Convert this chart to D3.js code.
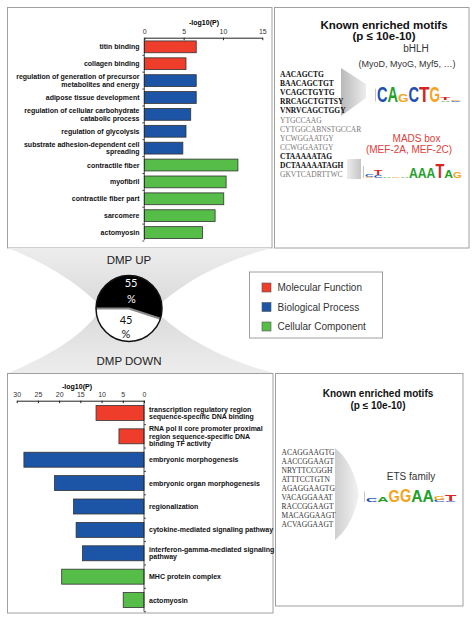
<!DOCTYPE html>
<html><head><meta charset="utf-8">
<script src="https://cdn.jsdelivr.net/npm/d3@7"></script>
<style>body{margin:0;background:#fff}svg{display:block}</style>
</head><body>
<svg id="c" width="474" height="627"></svg>
<script>
// ---------------- data ----------------
const groupNames = ["Molecular Function", "Biological Process", "Cellular Component"];
const groupColors = ["#ee3d2b", "#1c55a5", "#56bd48"];

const upCategories = ["titin binding", "collagen binding",
  "regulation of generation of precursor\nmetabolites and energy",
  "adipose tissue development",
  "regulation of cellular carbohydrate\ncatabolic process",
  "regulation of glycolysis",
  "substrate adhesion-dependent cell\nspreading",
  "contractile fiber", "myofibril", "contractile fiber part", "sarcomere", "actomyosin"];
const upValues = [6.6, 5.3, 6.6, 6.6, 5.9, 5.3, 4.9, 11.9, 10.4, 10.1, 9.0, 7.4];
const upGroups = [0, 0, 1, 1, 1, 1, 1, 2, 2, 2, 2, 2];
const upTicks = [0, 5, 10, 15];

const downCategories = ["transcription regulatory region\nsequence-specific DNA binding",
  "RNA pol II core promoter proximal\nregion sequence-specific DNA\nbinding TF activity",
  "embryonic morphogenesis", "embryonic organ morphogenesis", "regionalization",
  "cytokine-mediated signaling pathway",
  "interferon-gamma-mediated signaling\npathway",
  "MHC protein complex", "actomyosin"];
const downValues = [11.3, 5.9, 28.3, 21.1, 16.6, 16.0, 14.5, 19.4, 4.9];
const downGroups = [0, 0, 1, 1, 1, 1, 1, 2, 2];
const downTicks = [0, 5, 10, 15, 20, 25, 30];

const axisTitle = "-log10(P)";
const pieLabels = ["DMP UP", "DMP DOWN"];
const pieValues = [55, 45];

const motifTitle = ["Known enriched motifs", "(p \u2264 10e-10)"];
const upSequences = ["AACAGCTG", "BAACAGCTGT", "VCAGCTGYTG", "RRCAGCTGTTSY", "VNRVCAGCTGGY",
  "YTGCCAAG", "CYTGGCABNSTGCCAR", "YCWGGAATGY", "CCWGGAATGY",
  "CTAAAAATAG", "DCTAAAAATAGH", "GKVTCADRTTWC"];
const upSeqBold = [1, 1, 1, 1, 1, 0, 0, 0, 0, 1, 1, 0];
const downSequences = ["ACAGGAAGTG", "AACCGGAAGT", "NRYTTCCGGH", "ATTTCCTGTN", "AGAGGAAGTG",
  "VACAGGAAAT", "RACCGGAAGT", "MACAGGAAGT", "ACVAGGAAGT"];
const familyBHLH = ["bHLH", "(MyoD, MyoG, Myf5, \u2026)"];
const familyMADS = ["MADS box", "(MEF-2A, MEF-2C)"];
const familyETS = ["ETS family"];
// sequence logos: columns of [letter, relative height] stacked bottom-up
const logoBHLH = [[["C", 1]], [["A", 1]], [["G", 0.5]], [["C", 1]], [["T", 1]], [["G", 1]],
  [["A", 0.07], ["T", 0.12]], [["C", 0.05], ["G", 0.09]]];
const logoMADS = [[["G", 0.08], ["C", 0.2]], [["C", 0.18], ["T", 0.38]], [["A", 0.08]], [["G", 0.07]],
  [["A", 0.1]], [["A", 0.7]], [["A", 0.7]], [["A", 0.7]], [["T", 1]], [["A", 0.55]], [["G", 0.4]]];
const logoETS = [[["C", 0.3]], [["A", 0.35]], [["G", 0.95]], [["G", 1]], [["A", 0.9]], [["A", 0.9]],
  [["C", 0.15], ["G", 0.3]], [["C", 0.1], ["T", 0.5]]];

// ---------------- drawing ----------------
const svg = d3.select("#c");
const SANS = "'Liberation Sans', Arial, Helvetica, sans-serif";
const SERIF = "'Liberation Serif', 'Times New Roman', serif";
const defs = svg.append("defs");

function lg(id, stops, x2, y2) {
  const g = defs.append("linearGradient").attr("id", id)
    .attr("x1", 0).attr("y1", 0).attr("x2", x2).attr("y2", y2);
  stops.forEach(([o, c]) => g.append("stop").attr("offset", o).attr("stop-color", c));
}
lg("fTop", [[0, "#ededed"], [1, "#d9d9d9"]], 0, 1);
lg("fBot", [[0, "#d9d9d9"], [1, "#ededed"]], 0, 1);
lg("arr1", [[0, "#b9b9b9"], [1, "#ececec"]], 1, 0);
lg("arr2", [[0, "#ececec"], [1, "#c6c6c6"]], 1, 0);
lg("arr3", [[0, "#cfcfcf"], [1, "#f2f2f2"]], 1, 0);

// panels
const panels = [[7.5, 7.5, 264.5, 240.5], [274.5, 7.5, 194.5, 240.5],
  [7.5, 373.5, 265.5, 239.5], [275.5, 373.5, 187.5, 232.5]];
svg.selectAll("rect.panel").data(panels).join("rect").attr("class", "panel")
  .attr("x", d => d[0]).attr("y", d => d[1]).attr("width", d => d[2]).attr("height", d => d[3])
  .attr("fill", "#fff").attr("stroke", "#a0a0a0").attr("stroke-width", 1);

// funnels
const pc = [129, 308.5], pr = 33;
svg.append("path").attr("d", "M7 248 C45 262,80 285,97 303 L129 308 L161 303 C190 278,230 258,273 248 Z")
  .attr("fill", "url(#fTop)");
svg.append("path").attr("d", "M97 314 C80 338,45 358,8 373 L274 373 C230 362,190 342,161 316 L129 308 Z")
  .attr("fill", "url(#fBot)");

// ---- bar chart helper ----
function multiline(sel, text, x, cy, lh, anchor) {
  const lines = text.split("\n");
  const t = sel.append("text").attr("x", x).attr("text-anchor", anchor)
    .attr("font-family", SANS).attr("font-size", 7).attr("font-weight", "bold").attr("fill", "#111");
  lines.forEach((l, i) => t.append("tspan").attr("x", x)
    .attr("y", cy + (i - (lines.length - 1) / 2) * lh + 2.5).text(l));
}

// UP chart
(function () {
  const g = svg.append("g");
  const x = d3.scaleLinear().domain([0, 15]).range([144.3, 262.3]);
  const y = d3.scaleBand().domain(upCategories).range([38.4, 241]).paddingInner(0.3).paddingOuter(0.15);
  g.selectAll("rect.bar").data(upCategories).join("rect").attr("class", "bar")
    .attr("x", x(0)).attr("y", d => y(d)).attr("height", y.bandwidth())
    .attr("width", (d, i) => x(upValues[i]) - x(0))
    .attr("fill", (d, i) => groupColors[upGroups[i]]).attr("stroke", "#333").attr("stroke-width", 0.8);
  const ax = g.append("g").attr("transform", "translate(0,37.7)")
    .call(d3.axisTop(x).tickValues(upTicks).tickSizeInner(-2.5).tickSizeOuter(0).tickPadding(3.5));
  ax.select(".domain").attr("stroke", "#222");
  ax.selectAll(".tick line").attr("stroke", "#222");
  ax.selectAll("text").attr("font-family", SANS).attr("font-size", 7).attr("fill", "#333");
  g.append("text").attr("x", 204).attr("y", 25).attr("text-anchor", "middle")
    .attr("font-family", SANS).attr("font-size", 7).attr("font-weight", "bold").text(axisTitle);
  g.append("line").attr("x1", x(0)).attr("x2", x(0)).attr("y1", 37.7).attr("y2", 240).attr("stroke", "#222").attr("stroke-width", 0.8);
  const step = y.step();
  g.selectAll("line.yt").data(upCategories).join("line").attr("class", "yt")
    .attr("x1", x(0) - 2).attr("x2", x(0))
    .attr("y1", (d, i) => y(upCategories[0]) + (i + 1) * step - step * 0.15)
    .attr("y2", (d, i) => y(upCategories[0]) + (i + 1) * step - step * 0.15)
    .attr("stroke", "#222").attr("stroke-width", 0.8);
  upCategories.forEach(c => multiline(g, c, 139.5, y(c) + y.bandwidth() / 2, 7.5, "end"));
})();

// DOWN chart
(function () {
  const g = svg.append("g");
  const x = d3.scaleLinear().domain([0, 30]).range([144, 16.7]);
  const y = d3.scaleBand().domain(downCategories).range([401, 612]).paddingInner(0.36).paddingOuter(0.19);
  g.selectAll("rect.bar").data(downCategories).join("rect").attr("class", "bar")
    .attr("x", (d, i) => x(downValues[i])).attr("y", d => y(d)).attr("height", y.bandwidth())
    .attr("width", (d, i) => x(0) - x(downValues[i]))
    .attr("fill", (d, i) => groupColors[downGroups[i]]).attr("stroke", "#333").attr("stroke-width", 0.8);
  const ax = g.append("g").attr("transform", "translate(0,400.7)")
    .call(d3.axisTop(x).tickValues(downTicks).tickSizeInner(-2.5).tickSizeOuter(0).tickPadding(3.7));
  ax.select(".domain").attr("stroke", "#222");
  ax.selectAll(".tick line").attr("stroke", "#222");
  ax.selectAll("text").attr("font-family", SANS).attr("font-size", 7).attr("fill", "#333");
  g.append("text").attr("x", 77).attr("y", 388.5).attr("text-anchor", "middle")
    .attr("font-family", SANS).attr("font-size", 7).attr("font-weight", "bold").text(axisTitle);
  g.append("line").attr("x1", x(0)).attr("x2", x(0)).attr("y1", 400.7).attr("y2", 611.7).attr("stroke", "#222").attr("stroke-width", 0.8);
  const step = y.step();
  g.selectAll("line.yt").data(downCategories).join("line").attr("class", "yt")
    .attr("x1", x(0)).attr("x2", x(0) + 2)
    .attr("y1", (d, i) => y(downCategories[0]) + (i + 1) * step - step * 0.18)
    .attr("y2", (d, i) => y(downCategories[0]) + (i + 1) * step - step * 0.18)
    .attr("stroke", "#222").attr("stroke-width", 0.8);
  downCategories.forEach(c => multiline(g, c, 149, y(c) + y.bandwidth() / 2, 7.4, "start"));
})();

// PIE
(function () {
  const g = svg.append("g").attr("transform", `translate(${pc[0]},${pc[1]})`);
  const pie = d3.pie().sort(null).startAngle(-Math.PI / 2).endAngle(1.5 * Math.PI);
  const arcs = pie(pieValues);
  const arc = d3.arc().innerRadius(0).outerRadius(pr);
  g.selectAll("path").data(arcs).join("path").attr("d", arc)
    .attr("fill", (d, i) => i === 0 ? "#000" : "#fff");
  arcs.forEach(a => {
    const ang = a.startAngle;
    g.append("line").attr("x1", 0).attr("y1", 0)
      .attr("x2", pr * Math.sin(ang)).attr("y2", -pr * Math.cos(ang))
      .attr("stroke", "#8a8a8a").attr("stroke-width", 2.2);
  });
  g.append("circle").attr("r", pr).attr("fill", "none").attr("stroke", "#111").attr("stroke-width", 1.5);
  const pos = [[[2, -21.8], [2.5, -5.8]], [[-3, 15], [-3, 29]]];
  arcs.forEach((a, i) => {
    const t = [a.data + "", "%"];
    t.forEach((s, j) => g.append("text").attr("x", pos[i][j][0]).attr("y", pos[i][j][1])
      .attr("text-anchor", "middle").attr("font-family", "Lato, 'Open Sans', sans-serif").attr("font-size", 11)
      .attr("fill", i === 0 ? "#fff" : "#111").text(s));
  });
  svg.append("text").attr("x", pc[0]).attr("y", 264).attr("text-anchor", "middle")
    .attr("font-family", SANS).attr("font-size", 11.5).attr("fill", "#222").text(pieLabels[0]);
  svg.append("text").attr("x", pc[0]).attr("y", 365).attr("text-anchor", "middle")
    .attr("font-family", SANS).attr("font-size", 11.5).attr("fill", "#222").text(pieLabels[1]);
})();

// LEGEND
(function () {
  const g = svg.append("g");
  g.append("rect").attr("x", 249.5).attr("y", 272).attr("width", 133).attr("height", 66)
    .attr("fill", "#fff").attr("stroke", "#a0a0a0");
  groupNames.forEach((n, i) => {
    const cy = 287.5 + i * 19.5;
    g.append("rect").attr("x", 262).attr("y", cy - 4.5).attr("width", 9).attr("height", 9)
      .attr("fill", groupColors[i]).attr("stroke", "#555").attr("stroke-width", 0.6);
    g.append("text").attr("x", 277.5).attr("y", cy + 3.5).attr("font-family", SANS)
      .attr("font-size", 10).attr("fill", "#333").text(n);
  });
})();

// LOGO helper
const letterColor = { A: "#23a12b", C: "#1f4fb2", G: "#f5a31d", T: "#d6261f" };
function drawLogo(cols, x0, colW, base, fullH) {
  const g = svg.append("g");
  g.append("line").attr("x1", x0 - 1.5).attr("x2", x0 - 1.5).attr("y1", base).attr("y2", base - fullH * 0.8)
    .attr("stroke", "#888").attr("stroke-width", 0.5);
  cols.forEach((col, i) => {
    let yb = base;
    col.forEach(([L, f]) => {
      const h = f * fullH;
      const t = g.append("text").text(L).attr("font-family", SANS).attr("font-size", 100)
        .attr("font-weight", "bold").attr("fill", letterColor[L]);
      const w = t.node().getComputedTextLength();
      t.attr("transform", `translate(${x0 + i * colW},${yb}) scale(${colW / w},${h / 71.6})`);
      yb -= h;
    });
  });
}

// TOP MOTIF PANEL
(function () {
  const g = svg.append("g");
  motifTitle.forEach((s, i) => g.append("text").attr("x", 384).attr("y", 29 + i * 11).attr("text-anchor", "middle")
    .attr("font-family", SANS).attr("font-size", 11.5).attr("font-weight", "bold").attr("fill", "#111").text(s));
  familyBHLH.forEach((s, i) => g.append("text").attr("x", i ? 407 : 416).attr("y", 52 + i * 14.5).attr("text-anchor", "middle")
    .attr("font-family", SANS).attr("font-size", i ? 9 : 10).attr("fill", "#333").text(s));
  familyMADS.forEach((s, i) => g.append("text").attr("x", i ? 409 : 416.5).attr("y", 141.5 + i * 11.5).attr("text-anchor", "middle")
    .attr("font-family", SANS).attr("font-size", 10).attr("fill", "#e0403a").text(s));
  g.append("path").attr("d", "M341 68 L366 84 L366 98 L341 116 Z").attr("fill", "url(#arr1)");
  g.append("rect").attr("x", 347).attr("y", 159).attr("width", 14).attr("height", 20).attr("fill", "url(#arr2)");
  upSequences.forEach((s, i) => g.append("text").attr("x", 280).attr("y", 77 + i * 9.1)
    .attr("font-family", SERIF).attr("font-size", 7.5).attr("font-weight", upSeqBold[i] ? "bold" : "normal")
    .attr("fill", upSeqBold[i] ? "#111" : "#777").text(s));
  drawLogo(logoBHLH, 377, 10.5, 101.5, 16);
  drawLogo(logoMADS, 365, 8.8, 178, 15);
})();

// BOTTOM MOTIF PANEL
(function () {
  const g = svg.append("g");
  motifTitle.forEach((s, i) => g.append("text").attr("x", 378).attr("y", 397 + i * 12).attr("text-anchor", "middle")
    .attr("font-family", SANS).attr("font-size", 10).attr("font-weight", "bold").attr("fill", "#111").text(s));
  g.append("path").attr("d", "M335 448 Q353 462,359 494 Q353 526,335 540 Z").attr("fill", "url(#arr3)");
  downSequences.forEach((s, i) => g.append("text").attr("x", 281.5).attr("y", 454.5 + i * 9.1)
    .attr("font-family", SERIF).attr("font-size", 7.5).attr("fill", "#333").text(s));
  g.append("text").attr("x", 411).attr("y", 480).attr("text-anchor", "middle")
    .attr("font-family", SANS).attr("font-size", 10).attr("fill", "#333").text(familyETS[0]);
  drawLogo(logoETS, 366, 11.3, 502, 13);
})();
</script>
</body></html>
